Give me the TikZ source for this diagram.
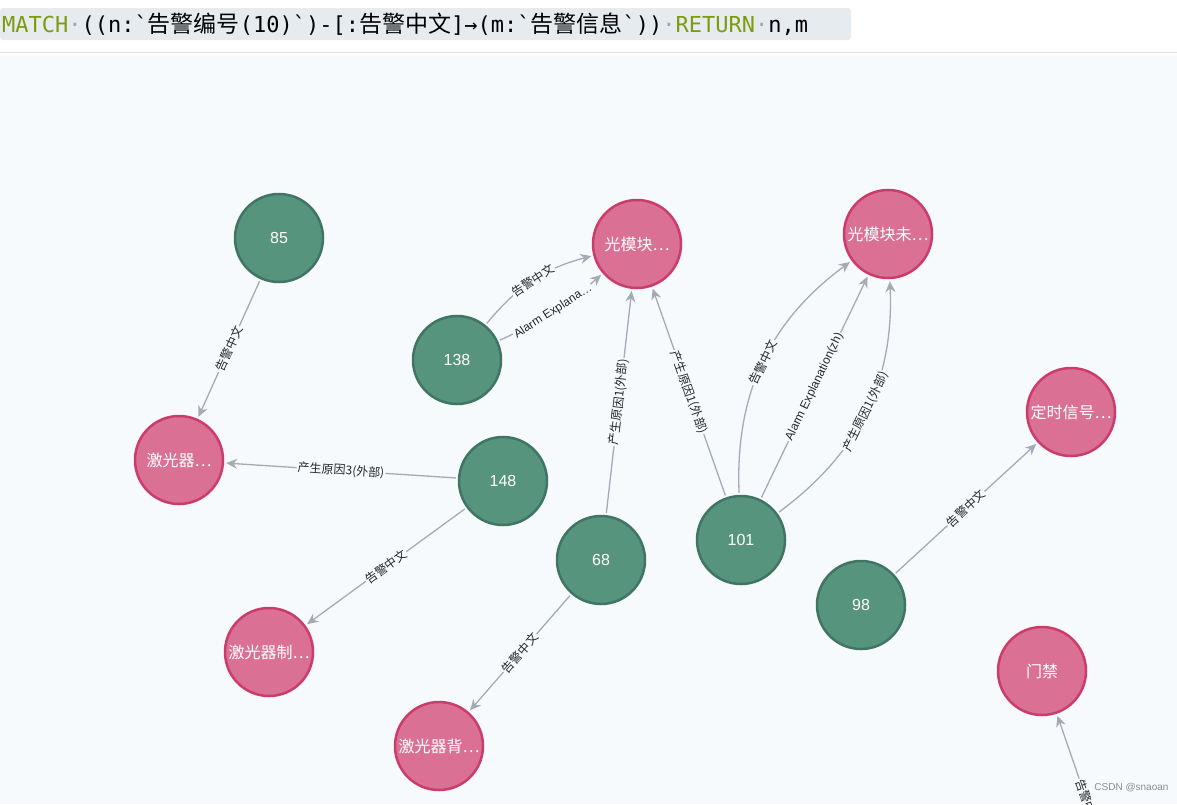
\documentclass[tikz,border=0pt]{standalone}
\usepackage{fontspec}
\setmainfont{Liberation Sans}
\setmonofont{DejaVu Sans Mono}
\newfontfamily\cjk{Noto Sans CJK SC}
\usetikzlibrary{arrows.meta}
\definecolor{bg}{HTML}{F7FAFD}
\definecolor{gfill}{HTML}{57947D}
\definecolor{gline}{HTML}{3F7562}
\definecolor{pfill}{HTML}{DA7194}
\definecolor{pline}{HTML}{CC3C6A}
\definecolor{edge}{HTML}{A5ABB6}
\definecolor{kw}{HTML}{7F9A0F}
\definecolor{codebg}{HTML}{E6EBF0}
\tikzset{
  gnode/.style={circle,minimum size=88pt,inner sep=0pt,fill=gfill,draw=gline,line width=2.5pt,text=white,font=\fontsize{16}{18}\selectfont},
  pnode/.style={circle,minimum size=88pt,inner sep=0pt,fill=pfill,draw=pline,line width=2.5pt,text=white,font=\cjk\fontsize{16}{18}\selectfont},
  rel/.style={draw=edge,line width=1.3pt,-{Stealth[length=11pt,width=10pt]},shorten <=2pt,shorten >=2pt},
  lab/.style={sloped,fill=bg,inner sep=1pt,text=black!85,font=\cjk\fontsize{12}{13}\selectfont},
  labl/.style={lab,font=\fontsize{12}{13}\selectfont},
}
\begin{document}
\begin{tikzpicture}[x=1pt,y=-1pt]
\useasboundingbox (0,0) rectangle (1177,804);
\fill[white] (0,0) rectangle (1177,804);
\fill[bg] (0,55) rectangle (1177,804);
\draw[black!12] (0,52.5) -- (1177,52.5);
\fill[codebg,rounded corners=3pt] (0,8) rectangle (851,40);
\node[anchor=west,inner sep=0pt,font=\ttfamily\fontsize{22}{24}\selectfont] (code) at (2,24)
 {\textcolor{kw}{MATCH}\textcolor{black!35}{·}((n:`{\cjk\fontsize{23}{24}\selectfont 告警编号}(10)`)-[:{\cjk\fontsize{23}{24}\selectfont 告警中文}]→(m:`{\cjk\fontsize{23}{24}\selectfont 告警信息}`))\textcolor{black!35}{·}\textcolor{kw}{RETURN}\textcolor{black!35}{·}n,m};
\begin{scope}
\clip (0,55) rectangle (1177,804);
\node[gnode] (n85) at (279,238) {85};
\node[gnode] (n138) at (457,360) {138};
\node[gnode] (n148) at (503,481) {148};
\node[gnode] (n68) at (601,560) {68};
\node[gnode] (n101) at (741,540) {101};
\node[gnode] (n98) at (861,605) {98};
\node[pnode] (m1) at (637,244) {光模块…};
\node[pnode] (m2) at (888,234) {光模块未…};
\node[pnode] (m3) at (1071,412) {定时信号…};
\node[pnode] (m4) at (179,460) {激光器…};
\node[pnode] (m5) at (269,652) {激光器制…};
\node[pnode] (m6) at (439,746) {激光器背…};
\node[pnode] (m7) at (1042,671) {门禁};
\coordinate (off) at (1090,810);
\draw[rel] (n85) -- node[lab]{告警中文} (m4);
\draw[rel] (n138) to[bend left=18] node[lab]{告警中文} (m1);
\draw[rel] (n138) to[bend right=8] node[labl]{Alarm Explana…} (m1);
\draw[rel] (n148) -- node[lab]{产生原因3(外部)} (m4);
\draw[rel] (n148) -- node[lab]{告警中文} (m5);
\draw[rel] (n68) -- node[lab]{产生原因1(外部)} (m1);
\draw[rel] (n68) -- node[lab]{告警中文} (m6);
\draw[rel] (n101) -- node[lab]{产生原因1(外部)} (m1);
\draw[rel] (n101) to[bend left=28] node[lab]{告警中文} (m2);
\draw[rel] (n101) -- node[labl]{Alarm Explanation(zh)} (m2);
\draw[rel] (n101) to[bend right=28] node[lab]{产生原因1(外部)} (m2);
\draw[rel] (n98) -- node[lab]{告警中文} (m3);
\draw[rel] (off) -- node[lab,pos=0.08]{告警中文} (m7);
\end{scope}
\node[text=black!45,font=\fontsize{10}{11}\selectfont,anchor=east] (wm) at (1172,788) {CSDN @snaoan};
\end{tikzpicture}
\end{document}
